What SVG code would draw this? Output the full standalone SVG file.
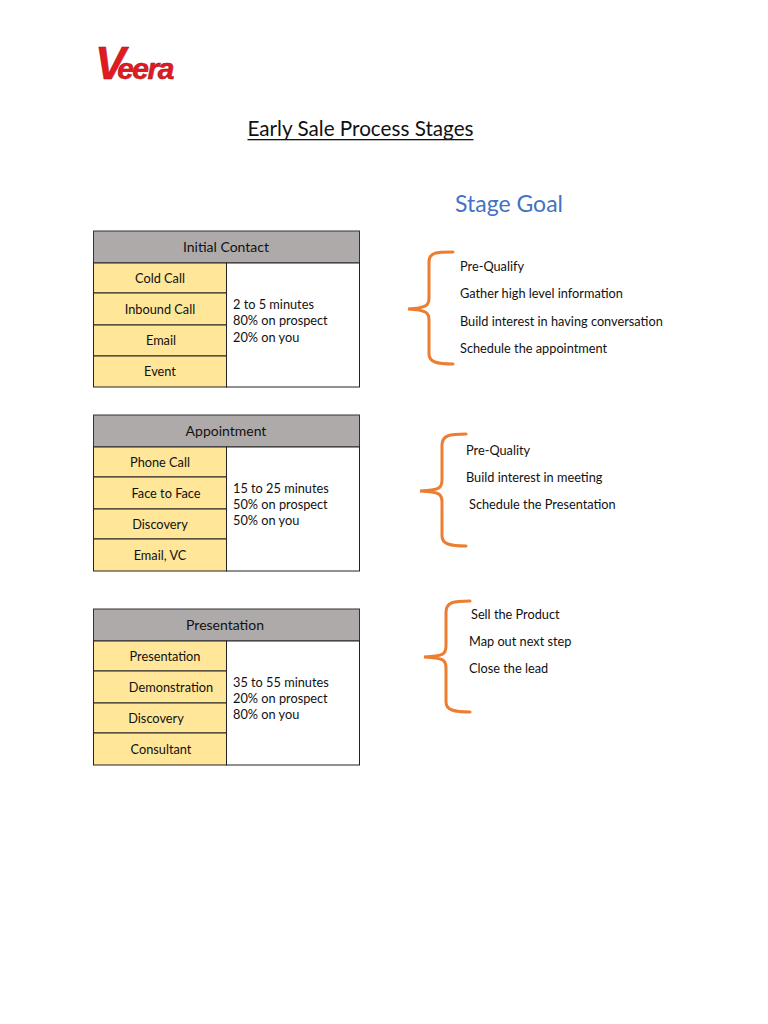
<svg xmlns="http://www.w3.org/2000/svg" width="768" height="1024" viewBox="0 0 768 1024">
<style>
text{font-family:Lato,"Open Sans","Liberation Sans",sans-serif;fill:#111;font-size:12.750px}
.m{text-anchor:middle}
.h{font-size:14px}
.head{fill:#aeaaaa;stroke:#333;stroke-width:1}
.cell{fill:#ffe699;stroke:#222;stroke-width:1}
.body{fill:#fff;stroke:#222;stroke-width:1}
.brace{fill:none;stroke:#ed7d31;stroke-width:3;stroke-linecap:round}
</style>
<rect width="768" height="1024" fill="#fff"/>
<g id="logo">
<text x="95" y="79" style="font-family:'Liberation Sans',sans-serif;font-size:30px;font-weight:bold;font-style:italic;fill:#e21b23;stroke:#a01015;stroke-width:.5;letter-spacing:-1.500px"><tspan style="font-size:46px">V</tspan><tspan dx="-7">eera</tspan></text>
</g>
<g id="title">
<text x="360.500" y="136" class="m" style="font-size:21px" textLength="226" lengthAdjust="spacingAndGlyphs">Early Sale Process Stages</text>
<rect x="247.500" y="139" width="226" height="1.300" fill="#111"/>
</g>
<g id="stage-goal"><text x="509" y="212" class="m" style="font-size:23px;fill:#4472c4" textLength="108" lengthAdjust="spacingAndGlyphs">Stage Goal</text></g>

<g id="initial-contact">
<rect class="head" x="93.500" y="231" width="266" height="32"/>
<rect class="body" x="226.500" y="263" width="133" height="124"/>
<rect class="cell" x="93.500" y="263" width="133" height="30"/>
<rect class="cell" x="93.500" y="293" width="133" height="32"/>
<rect class="cell" x="93.500" y="325" width="133" height="31"/>
<rect class="cell" x="93.500" y="356" width="133" height="31"/>
<text class="m h" x="226" y="252">Initial Contact</text>
<text class="m" x="160" y="283">Cold Call</text>
<text class="m" x="160" y="314">Inbound Call</text>
<text class="m" x="161" y="345">Email</text>
<text class="m" x="160" y="376">Event</text>
<text x="233" y="309">2 to 5 minutes</text>
<text x="233" y="325">80% on prospect</text>
<text x="233" y="342">20% on you</text>
</g>

<g id="appointment">
<rect class="head" x="93.500" y="415" width="266" height="32"/>
<rect class="body" x="226.500" y="447" width="133" height="124"/>
<rect class="cell" x="93.500" y="447" width="133" height="30"/>
<rect class="cell" x="93.500" y="477" width="133" height="32"/>
<rect class="cell" x="93.500" y="509" width="133" height="30"/>
<rect class="cell" x="93.500" y="539" width="133" height="32"/>
<text class="m h" x="226" y="436">Appointment</text>
<text class="m" x="160" y="467">Phone Call</text>
<text class="m" x="166" y="498">Face to Face</text>
<text class="m" x="160" y="529">Discovery</text>
<text class="m" x="160" y="560">Email, VC</text>
<text x="233" y="493">15 to 25 minutes</text>
<text x="233" y="509">50% on prospect</text>
<text x="233" y="525">50% on you</text>
</g>

<g id="presentation">
<rect class="head" x="93.500" y="609" width="266" height="32"/>
<rect class="body" x="226.500" y="641" width="133" height="124"/>
<rect class="cell" x="93.500" y="641" width="133" height="30"/>
<rect class="cell" x="93.500" y="671" width="133" height="32"/>
<rect class="cell" x="93.500" y="703" width="133" height="30"/>
<rect class="cell" x="93.500" y="733" width="133" height="32"/>
<text class="m h" x="225" y="630">Presentation</text>
<text class="m" x="165" y="661">Presentation</text>
<text class="m" x="171" y="692">Demonstration</text>
<text class="m" x="156" y="723">Discovery</text>
<text class="m" x="161" y="754">Consultant</text>
<text x="233" y="687">35 to 55 minutes</text>
<text x="233" y="703">20% on prospect</text>
<text x="233" y="719">80% on you</text>
</g>

<g id="connectors">
<path class="brace" d="M453 252C437 252 429 252 429 262V298C429 305 427 308 408 309C427 310 429 313 429 320V354C429 362 437 364 453 364"/>
<path class="brace" d="M466 434C450 434 442 435 442 445V480C442 488 440 490 420 491C440 492 442 494 442 502V536C442 544 450 546 466 546"/>
<path class="brace" d="M470 601C454 601 446 602 446 612V646C446 654 444 656 424 657C444 658 446 660 446 668V702C446 710 454 712 470 712"/>
</g>

<g id="goals-1">
<text x="460" y="271">Pre-Qualify</text>
<text x="460" y="298">Gather high level information</text>
<text x="460" y="326">Build interest in having conversation</text>
<text x="460" y="353">Schedule the appointment</text>
</g>
<g id="goals-2">
<text x="466" y="455">Pre-Quality</text>
<text x="466" y="482">Build interest in meeting</text>
<text x="469" y="509">Schedule the Presentation</text>
</g>
<g id="goals-3">
<text x="471" y="619">Sell the Product</text>
<text x="469" y="646">Map out next step</text>
<text x="469" y="673">Close the lead</text>
</g>
</svg>
